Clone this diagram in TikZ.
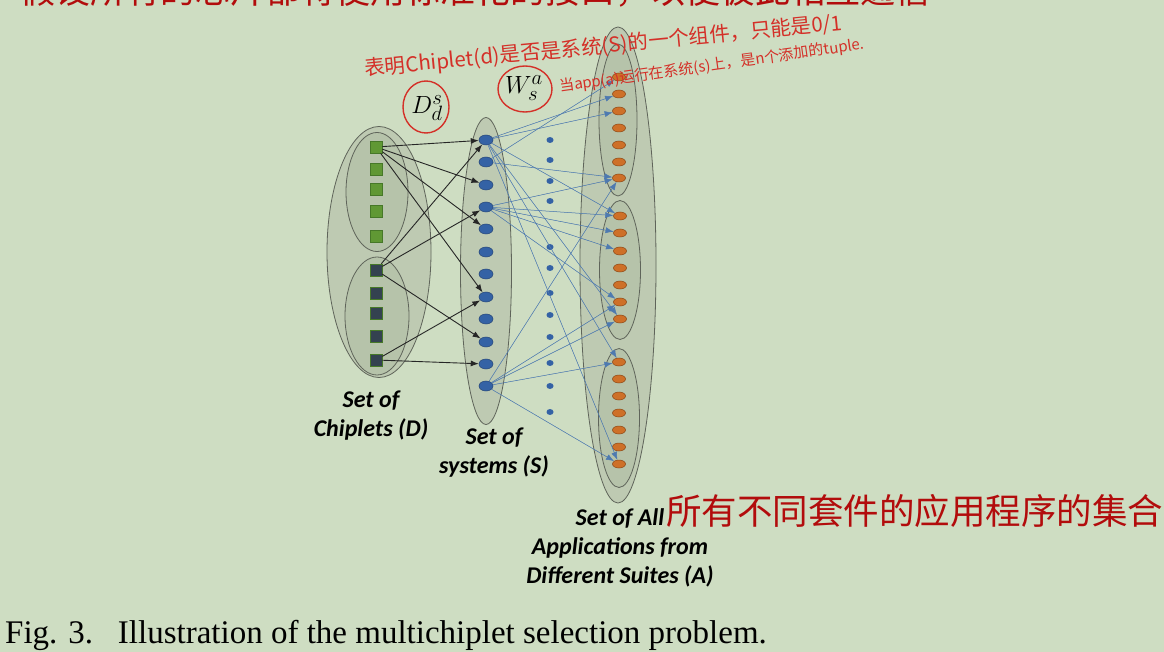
\documentclass[tikz,border=0pt]{standalone}
\usepackage{fontspec}
\setmainfont{Liberation Serif}
\newfontfamily\labelfont{Carlito}
\newfontfamily\cjkfont{Noto Sans CJK SC}
\usetikzlibrary{arrows.meta,shapes.geometric}
\definecolor{bgcol}{RGB}{206,221,194}
\definecolor{setfill}{RGB}{190,202,178}
\definecolor{subfill}{RGB}{182,195,170}
\definecolor{ringcol}{RGB}{95,100,90}
\definecolor{chipgreen}{RGB}{96,152,52}
\definecolor{chipdark}{RGB}{52,66,80}
\definecolor{chipedge}{RGB}{70,120,40}
\definecolor{sysblue}{RGB}{52,98,165}
\definecolor{sysedge}{RGB}{38,70,120}
\definecolor{apporange}{RGB}{206,112,40}
\definecolor{appedge}{RGB}{140,72,22}
\definecolor{linkblue}{RGB}{78,122,176}
\definecolor{inkred}{RGB}{212,48,40}
\definecolor{cnred}{RGB}{178,12,12}
\tikzset{
  setring/.style={ellipse, draw=ringcol, line width=0.8pt, fill=setfill, inner sep=0pt},
  subring/.style={ellipse, draw=ringcol, line width=0.8pt, fill=subfill, inner sep=0pt},
  chipg/.style={draw=chipedge, line width=0.6pt, fill=chipgreen, minimum size=12pt, inner sep=0pt},
  chipd/.style={draw=chipedge, line width=0.6pt, fill=chipdark, minimum size=12pt, inner sep=0pt},
  sysnode/.style={ellipse, draw=sysedge, line width=0.5pt, fill=sysblue, minimum width=14pt, minimum height=10pt, inner sep=0pt},
  dotnode/.style={ellipse, fill=sysblue, minimum width=7pt, minimum height=6pt, inner sep=0pt},
  appnode/.style={ellipse, draw=appedge, line width=0.5pt, fill=apporange, minimum width=13pt, minimum height=8pt, inner sep=0pt},
  line/.style={-{Latex[length=8pt,width=6pt]}, line width=0.9pt, draw=black!85},
  thinline/.style={-{Latex[length=8pt,width=6pt]}, line width=0.5pt, draw=linkblue, fill=linkblue},
  setlabel/.style={font=\labelfont\bfseries\itshape\fontsize{24}{29}\selectfont, align=center},
  note/.style={text=inkred, inner sep=0pt}
}

\begin{document}
\begin{tikzpicture}[x=1pt,y=-1pt]
  \fill[bgcol] (0,0) rectangle (1164,652);
  \useasboundingbox (0,0) rectangle (1164,652);

  % set boundaries
  \node[setring, minimum width=104pt, minimum height=251pt] (chipset) at (379,252) {};
  \node[subring, minimum width=62pt, minimum height=119pt] (greenset) at (377,192) {};
  \node[subring, minimum width=64pt, minimum height=118pt] (darkset) at (377,316) {};
  \node[setring, minimum width=51pt, minimum height=307pt] (sysset) at (486,271) {};
  \node[setring, minimum width=76pt, minimum height=476pt] (appset) at (618,265) {};
  \node[subring, minimum width=38pt, minimum height=152pt] (topset) at (618,120) {};
  \node[subring, minimum width=41pt, minimum height=139pt] (midset) at (620,270) {};
  \node[subring, minimum width=41pt, minimum height=139pt] (botset) at (619,418) {};

  % chiplets
  \foreach \y [count=\i] in {147,169,189,211,236}
    \node[chipg] (g\i) at (376,\y) {};
  \foreach \y [count=\i] in {270,293,313,336,360}
    \node[chipd] (k\i) at (376,\y) {};

  % systems and dots
  \foreach \y [count=\i] in {140,162,185,207,229,252,274,297,319,342,364,386}
    \node[sysnode] (s\i) at (486,\y) {};
  \foreach \y [count=\i] in {140,160,181,201,247,268,293,315,337,363,386,412}
    \node[dotnode] (p\i) at (550,\y) {};

  % applications
  \foreach \y [count=\i] in {77,94,111,128,145,162,178}
    \node[appnode] (t\i) at (619,\y) {};
  \foreach \y [count=\i] in {216,233,251,268,285,302,319}
    \node[appnode] (m\i) at (620,\y) {};
  \foreach \y [count=\i] in {362,379,396,413,430,447,464}
    \node[appnode] (b\i) at (619,\y) {};

  % chiplet -> system
  \foreach \a/\b in {g1/s1, g1/s3, g1/s5, g1/s8, k1/s1, k1/s4, k1/s10, k5/s8, k5/s11}
    \draw[line] (\a) -- (\b);

  % system -> application
  \foreach \a/\b in {s1/t2, s1/t3, s1/m1, s1/m7, s1/b1, s1/b7, s2/t1, s2/t7,
                     s4/t7, s4/m1, s4/m2, s4/m3, s4/m6,
                     s12/t7, s12/m6, s12/m7, s12/b1, s12/b7}
    \draw[thinline] (\a) -- (\b);

  % labels
  \node[setlabel] (chiplabel) at (371,416) {Set of\\Chiplets (D)};
  \node[setlabel] (syslabel) at (494,453) {Set of\\systems (S)};
  \node[setlabel] (applabel) at (620,548) {Set of All\\Applications from\\Different Suites (A)};
  \node[anchor=base west, inner sep=0pt, text=cnred, font=\cjkfont\fontsize{35.5}{35.5}\selectfont]
    (appnote) at (666,524) {所有不同套件的应用程序的集合};
  \node[anchor=base west, inner sep=0pt, text=cnred, font=\cjkfont\fontsize{35}{35}\selectfont]
    (topnote) at (20,4) {假设所有的芯片都将使用标准化的接口，以便彼此相互通信};

  % hand notes
  \draw[inkred, line width=1.4pt] (426,107) ellipse [x radius=23, y radius=26];
  \node[inner sep=0pt, font=\fontsize{32}{32}\selectfont] (dsym) at (427,108) {$D_d^s$};
  \draw[inkred, line width=1.4pt] (525,89) ellipse [x radius=27, y radius=23];
  \node[inner sep=0pt, font=\fontsize{30}{30}\selectfont] (wsym) at (524,88) {$W_s^a$};
  \node[note, anchor=base west, rotate=5.5, font=\cjkfont\fontsize{20.5}{20.5}\selectfont]
    (note1) at (365,76) {表明Chiplet(d)是否是系统(S)的一个组件，只能是0/1};
  \node[note, anchor=base west, rotate=8, font=\cjkfont\fontsize{15}{15}\selectfont]
    (note2) at (560,92) {当app(a)运行在系统(s)上，是n个添加的tuple.};

  % caption
  \node[anchor=base west, inner sep=0pt, font=\fontsize{33}{33}\selectfont]
    (caption) at (5,643) {Fig. 3.\hspace{0.75em}Illustration of the multichiplet selection problem.};
\end{tikzpicture}
\end{document}
